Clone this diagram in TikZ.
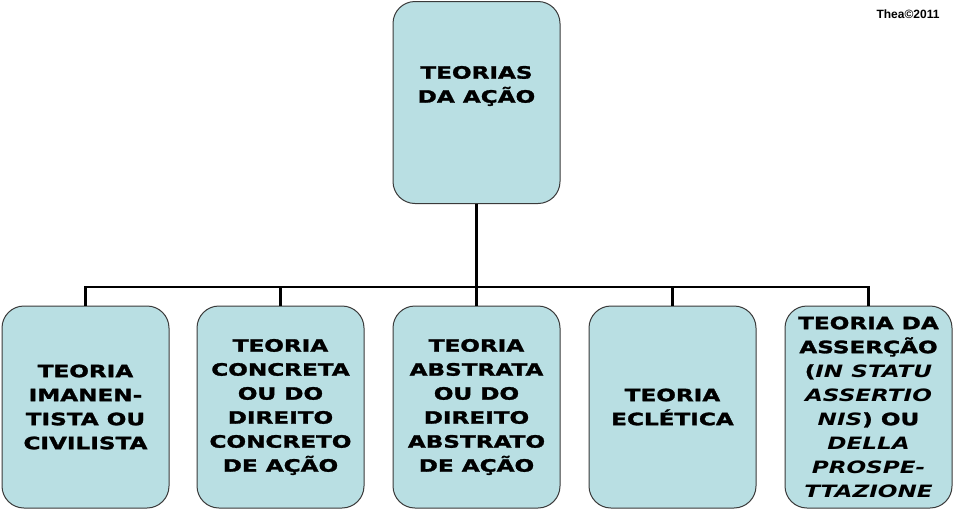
\documentclass[tikz,border=0pt]{standalone}
\usepackage{fontspec}
\setmainfont{DejaVu Sans}[FakeStretch=1.36,BoldFeatures={FakeBold=1.6}]
\newfontfamily\signfont{Liberation Sans}
\definecolor{boxblue}{HTML}{B9DFE3}
\definecolor{boxline}{HTML}{3A3A3A}
\tikzset{
  theory/.style={draw=boxline,line width=1pt,fill=boxblue,rounded corners=22pt,
    minimum width=167pt,minimum height=202pt,inner sep=0pt},
  label/.style={align=center,font=\fontsize{17}{24}\selectfont\bfseries},
  tree/.style={line width=2.2pt}
}
\begin{document}
\begin{tikzpicture}[x=1pt,y=-1pt]
\useasboundingbox[fill=white] (0,0) rectangle (959,515);
% caixa do topo
\node[theory] (top) at (476.5,102.5) {};
\node[label] (toptext) at (476.5,86) {TEORIAS\\DA AÇÃO};
% caixas de baixo
\node[theory] (imanen) at (85.5,407) {};
\node[label] at (imanen) {TEORIA\\IMANEN-\\TISTA OU\\CIVILISTA};
\node[theory] (concreta) at (280.5,407) {};
\node[label] at (concreta) {TEORIA\\CONCRETA\\OU DO\\DIREITO\\CONCRETO\\DE AÇÃO};
\node[theory] (abstrata) at (476.5,407) {};
\node[label] at (abstrata) {TEORIA\\ABSTRATA\\OU DO\\DIREITO\\ABSTRATO\\DE AÇÃO};
\node[theory] (ecletica) at (672.5,407) {};
\node[label] at (ecletica) {TEORIA\\ECLÉTICA};
\node[theory] (assercao) at (868.5,407) {};
\node[label] at (assercao) {TEORIA DA\\ASSERÇÃO\\(\textit{IN STATU}\\\textit{ASSERTIO}\\\textit{NIS}) OU\\\textit{DELLA}\\\textit{PROSPE-}\\\textit{TTAZIONE}};
% ligacoes
\coordinate (bus) at (476.5,287);
\draw[tree] (top.south) -- (bus);
\draw[tree] (imanen.north) |- (bus) -| (assercao.north);
\draw[tree] (concreta.north) -- (concreta.north |- bus);
\draw[tree] (abstrata.north) -- (bus);
\draw[tree] (ecletica.north) -- (ecletica.north |- bus);
\node[font=\signfont\bfseries\fontsize{12}{14}\selectfont] (sign) at (908,14) {Thea©2011};
\end{tikzpicture}
\end{document}
